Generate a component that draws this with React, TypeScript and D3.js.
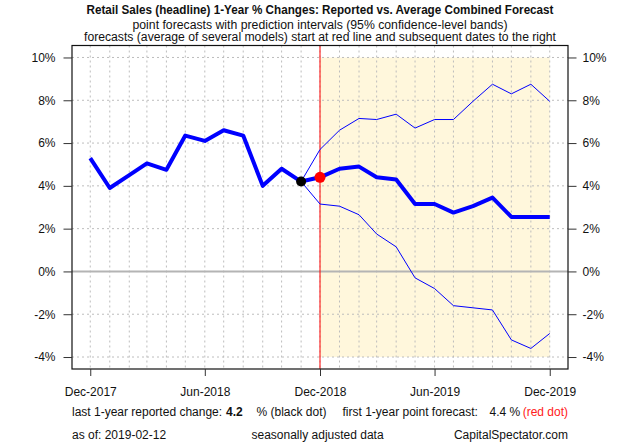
import React, { useEffect, useRef } from 'react';
import * as d3 from 'd3';

const W = 640;
const H = 443;
const BOX = { left: 72, right: 568, top: 45.5, bottom: 369 };
const FONT = '"Liberation Sans", Arial, Helvetica, sans-serif';

// reported 1-year % change (headline retail sales)
const reportedMonths = ['2017-12', '2018-01', '2018-02', '2018-03', '2018-04', '2018-05', '2018-06', '2018-07', '2018-08', '2018-09', '2018-10', '2018-11'];
const reportedValues = [5.3, 3.9, 4.5, 5.05, 4.75, 6.35, 6.1, 6.6, 6.35, 4.0, 4.8, 4.2];

// average combined forecast with 95% bands (starting from last reported point)
const forecastMonths = ['2018-11', '2018-12', '2019-01', '2019-02', '2019-03', '2019-04', '2019-05', '2019-06', '2019-07', '2019-08', '2019-09', '2019-10', '2019-11', '2019-12'];
const forecastMid = [4.2, 4.4, 4.8, 4.9, 4.4, 4.3, 3.15, 3.15, 2.75, 3.05, 3.45, 2.55, 2.55, 2.55];
const forecastUpper = [4.2, 5.7, 6.6, 7.15, 7.1, 7.35, 6.7, 7.1, 7.1, 7.95, 8.75, 8.3, 8.75, 7.95];
const forecastLower = [4.2, 3.15, 3.05, 2.65, 1.75, 1.15, -0.3, -0.8, -1.6, -1.7, -1.8, -3.2, -3.6, -2.9];

const yTicks = [-4, -2, 0, 2, 4, 6, 8, 10];
const xTickMonths = ['2017-12', '2018-06', '2018-12', '2019-06', '2019-12'];
const lastReported = 4.2;
const firstForecast = 4.4;

const parse = d3.timeParse('%Y-%m');

const App: React.FC = () => {
    const svgRef = useRef<SVGSVGElement>(null);

    useEffect(() => {
        if (!svgRef.current) return;
        const svg = d3.select(svgRef.current);
        svg.selectAll('*').remove();

        const start = parse(reportedMonths[0])!;
        const end = parse(forecastMonths[forecastMonths.length - 1])!;
        const x = d3.scaleTime()
            .domain([d3.timeDay.offset(start, -29), d3.timeDay.offset(end, 29)])
            .range([BOX.left, BOX.right]);
        const y = d3.scaleLinear().domain([-4.56, 10.56]).range([BOX.bottom, BOX.top]);

        const fcStart = parse(forecastMonths[1])!;

        svg.append('rect').attr('width', W).attr('height', H).attr('fill', 'white');

        // forecast region
        svg.append('rect')
            .attr('x', x(fcStart))
            .attr('y', y(10))
            .attr('width', x(end) - x(fcStart))
            .attr('height', y(-4) - y(10))
            .attr('fill', '#fff7dc');

        // dotted grid
        const months = d3.timeMonth.range(start, d3.timeDay.offset(end, 1));
        svg.append('g').selectAll('line').data(months).enter().append('line')
            .attr('x1', d => x(d)).attr('x2', d => x(d))
            .attr('y1', BOX.top).attr('y2', BOX.bottom)
            .attr('stroke', '#bdbdbd').attr('stroke-dasharray', '2,3');
        svg.append('g').selectAll('line').data(yTicks.filter(t => t !== 0)).enter().append('line')
            .attr('x1', BOX.left).attr('x2', BOX.right)
            .attr('y1', d => y(d)).attr('y2', d => y(d))
            .attr('stroke', '#bdbdbd').attr('stroke-dasharray', '2,3');

        svg.append('line')
            .attr('x1', BOX.left).attr('x2', BOX.right)
            .attr('y1', y(0)).attr('y2', y(0))
            .attr('stroke', '#b4b4b4').attr('stroke-width', 2);

        svg.append('line')
            .attr('x1', x(fcStart)).attr('x2', x(fcStart))
            .attr('y1', BOX.top).attr('y2', BOX.bottom)
            .attr('stroke', '#ff0000').attr('stroke-width', 1);

        const line = d3.line<[string, number]>()
            .x(d => x(parse(d[0])!))
            .y(d => y(d[1]));

        const zip = (ms: string[], vs: number[]) => ms.map((m, i) => [m, vs[i]] as [string, number]);

        [forecastUpper, forecastLower].forEach(band => {
            svg.append('path')
                .attr('d', line(zip(forecastMonths, band)))
                .attr('fill', 'none')
                .attr('stroke', '#0000ff')
                .attr('stroke-width', 1);
        });

        svg.append('path')
            .attr('d', line(zip(reportedMonths, reportedValues)))
            .attr('fill', 'none').attr('stroke', '#0000ff')
            .attr('stroke-width', 4).attr('stroke-linejoin', 'round');
        svg.append('path')
            .attr('d', line(zip(forecastMonths, forecastMid)))
            .attr('fill', 'none').attr('stroke', '#0000ff')
            .attr('stroke-width', 4).attr('stroke-linejoin', 'round');

        svg.append('circle')
            .attr('cx', x(parse(reportedMonths[reportedMonths.length - 1])!))
            .attr('cy', y(lastReported))
            .attr('r', 5).attr('fill', 'black');
        svg.append('circle')
            .attr('cx', x(fcStart))
            .attr('cy', y(firstForecast))
            .attr('r', 5.5).attr('fill', '#ff0000');

        // box
        svg.append('rect')
            .attr('x', BOX.left).attr('y', BOX.top)
            .attr('width', BOX.right - BOX.left).attr('height', BOX.bottom - BOX.top)
            .attr('fill', 'none').attr('stroke', '#111').attr('stroke-width', 1.2);

        const styleAxis = (g: d3.Selection<SVGGElement, unknown, null, undefined>) => {
            g.select('.domain').remove();
            g.selectAll('text').style('font-family', FONT).style('font-size', '12px').style('fill', '#111');
            g.selectAll('line').attr('stroke', '#333');
        };

        svg.append('g')
            .attr('transform', `translate(${BOX.left},0)`)
            .call(d3.axisLeft(y).tickValues(yTicks).tickSize(8.5).tickPadding(8).tickFormat(d => `${d}%`))
            .call(styleAxis);
        svg.append('g')
            .attr('transform', `translate(${BOX.right},0)`)
            .call(d3.axisRight(y).tickValues(yTicks).tickSize(8.5).tickPadding(6).tickFormat(d => `${d}%`))
            .call(styleAxis);
        svg.append('g')
            .attr('transform', `translate(0,${BOX.bottom})`)
            .call(d3.axisBottom(x).tickValues(xTickMonths.map(m => parse(m)!)).tickSize(7).tickPadding(11)
                .tickFormat(d => d3.timeFormat('%b-%Y')(d as Date)))
            .call(styleAxis);

        const cx = (BOX.left + BOX.right) / 2;
        const txt = (s: string, tx: number, ty: number, opts: any = {}) => {
            const t = svg.append('text')
                .attr('x', tx).attr('y', ty)
                .attr('text-anchor', opts.anchor || 'start')
                .style('font-family', FONT)
                .style('font-size', `${opts.size || 12}px`)
                .style('font-weight', opts.bold ? 'bold' : 'normal')
                .style('fill', opts.color || '#111')
                .text(s);
            if (opts.len) t.attr('textLength', opts.len).attr('lengthAdjust', 'spacingAndGlyphs');
            return t;
        };

        txt('Retail Sales (headline) 1-Year % Changes: Reported vs. Average Combined Forecast', cx, 14, { anchor: 'middle', bold: true, len: 467 });
        txt('point forecasts with prediction intervals (95% confidence-level bands)', cx, 28.5, { anchor: 'middle', len: 375 });
        txt('forecasts (average of several models) start at red line and subsequent dates to the right', cx, 41, { anchor: 'middle', len: 472 });

        txt('last 1-year reported change:', 72, 416);
        txt(`${lastReported}`, 226, 416, { bold: true });
        txt('% (black dot)', 256.5, 416);
        txt('first 1-year point forecast:', 342.5, 416);
        txt(`${firstForecast} %`, 489.5, 416);
        txt('(red dot)', 568, 416, { anchor: 'end', color: '#ff2020' });

        txt('as of:  2019-02-12', 72, 438.5);
        txt('seasonally adjusted data', 251.5, 438.5);
        txt('CapitalSpectator.com', 568, 438.5, { anchor: 'end' });
    }, []);

    return (
        <svg ref={svgRef} width={W} height={H}
            style={{ position: 'absolute', left: 0, top: 0, background: 'white' }} />
    );
};

export default App;
